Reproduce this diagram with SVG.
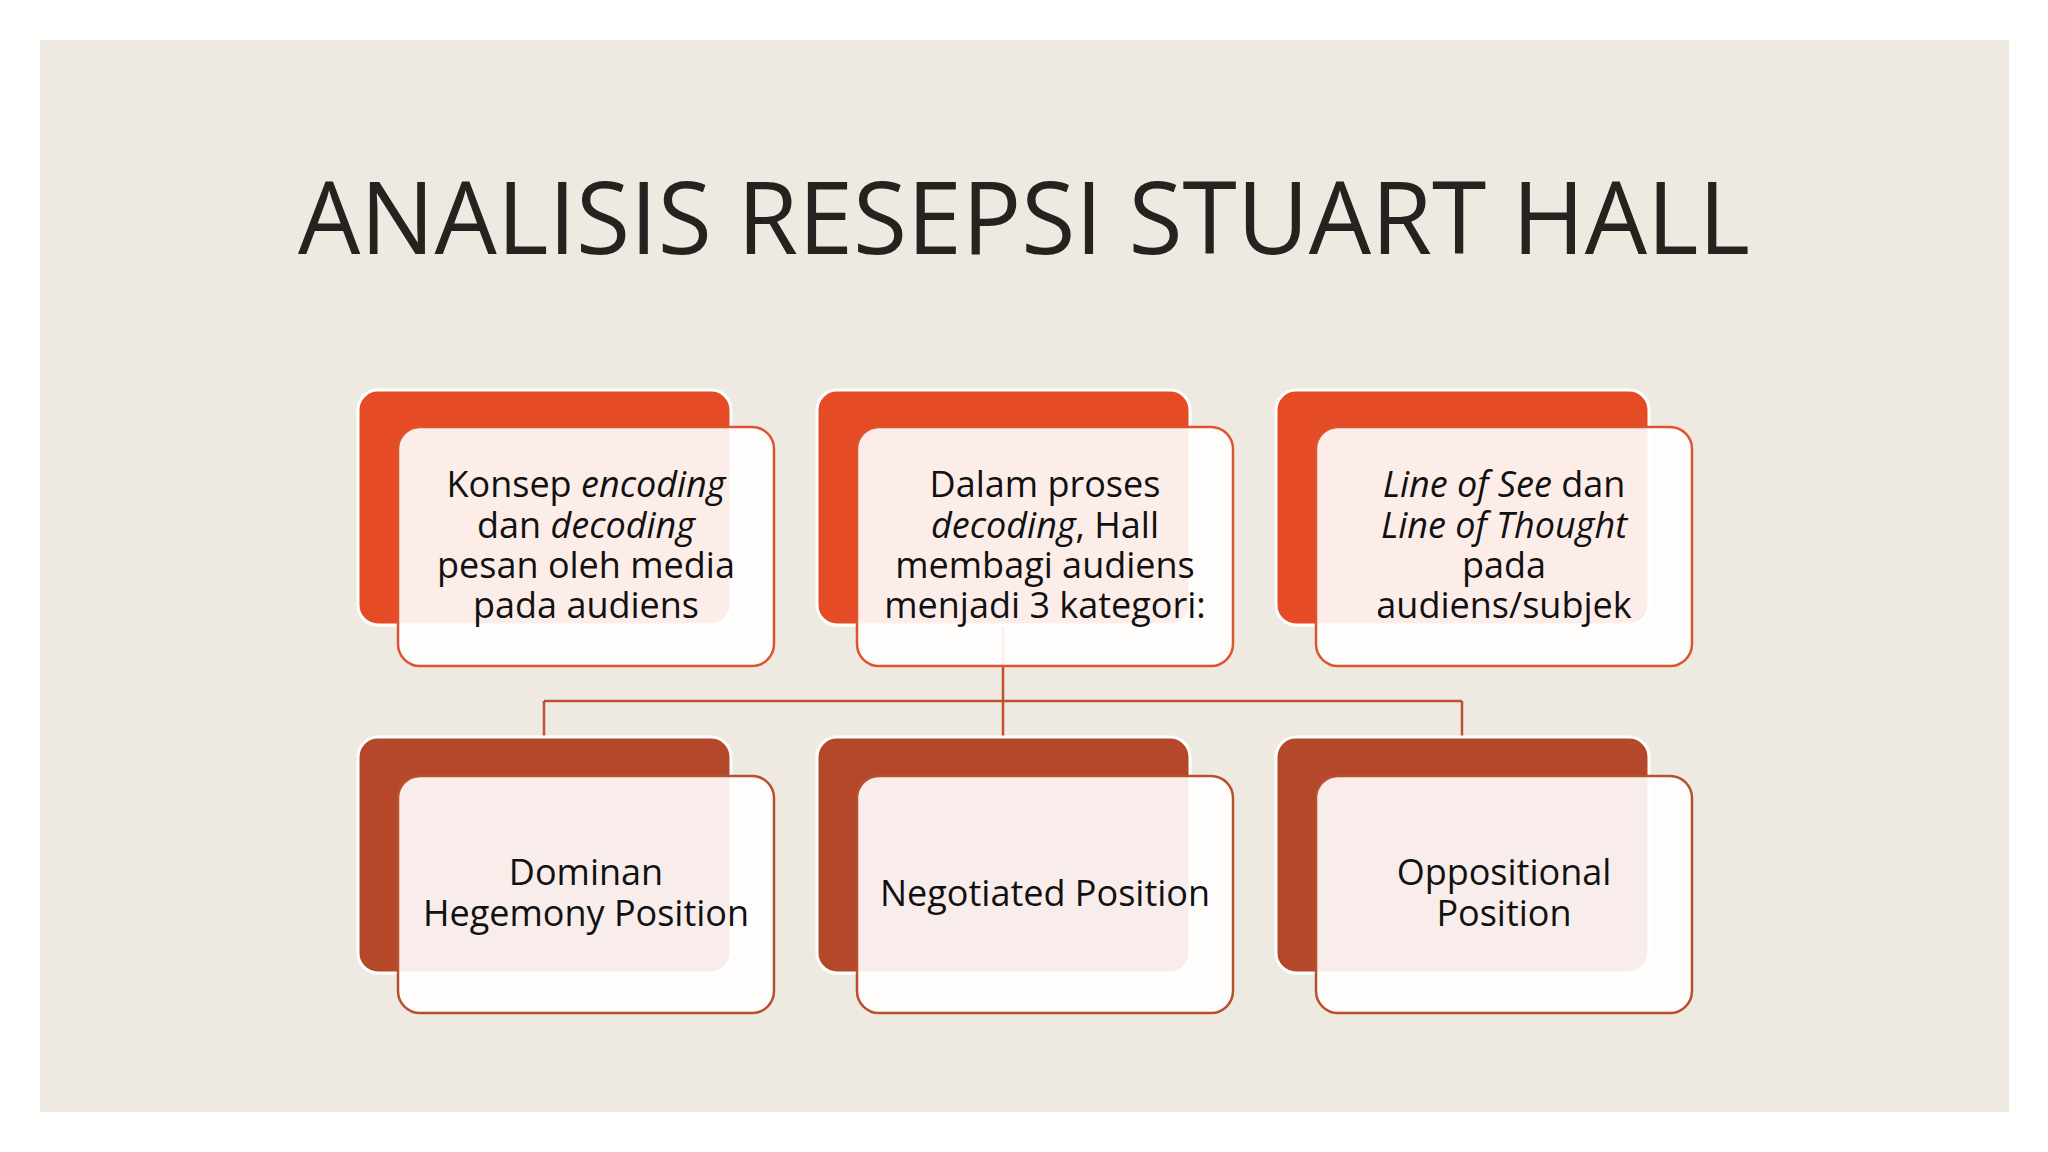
<svg xmlns="http://www.w3.org/2000/svg" width="2048" height="1152" viewBox="0 0 2048 1152">
<style>
.back-top{fill:#E54B24;stroke:#FFFFFF;stroke-width:3}
.back-bot{fill:#B5482A;stroke:#FFFFFF;stroke-width:3}
.front-top{fill:#FFFFFF;fill-opacity:0.9;stroke:#DC5530;stroke-width:2.5}
.front-bot{fill:#FFFFFF;fill-opacity:0.9;stroke:#B8502E;stroke-width:2.5}
.lbl{font-family:"Open Sans","Noto Sans","Liberation Sans",sans-serif;font-size:36px;fill:#111111;text-anchor:middle}
.it{font-style:italic}
.conn{fill:none;stroke:#C0502D;stroke-width:2.5}
</style>
<rect x="0" y="0" width="2048" height="1152" fill="#FFFFFF"/>
<rect x="40" y="40" width="1969" height="1072" fill="#EEEAE2"/>
<text x="1024" y="254" font-family="'Open Sans','Noto Sans','Liberation Sans',sans-serif" font-size="100" fill="#252320" text-anchor="middle" textLength="1452" lengthAdjust="spacingAndGlyphs">ANALISIS RESEPSI STUART HALL</text>
<g id="connectors">
<path class="conn" d="M1003 627 V701 M544 701 H1462 M544 701 V736 M1003 701 V736 M1462 701 V736"/>
</g>
<g id="node-konsep">
<rect class="back-top" x="358" y="390" width="373" height="235" rx="20"/>
<rect class="front-top" x="398" y="427" width="376" height="239" rx="22"/>
<text class="lbl"><tspan x="586" y="497">Konsep <tspan class="it">encoding</tspan></tspan><tspan x="586" y="538">dan <tspan class="it">decoding</tspan></tspan><tspan x="586" y="578">pesan oleh media</tspan><tspan x="586" y="618">pada audiens</tspan></text>
</g>
<g id="node-decoding">
<rect class="back-top" x="817" y="390" width="373" height="235" rx="20"/>
<rect class="front-top" x="857" y="427" width="376" height="239" rx="22"/>
<text class="lbl"><tspan x="1045" y="497">Dalam proses</tspan><tspan x="1045" y="538"><tspan class="it">decoding</tspan>, Hall</tspan><tspan x="1045" y="578">membagi audiens</tspan><tspan x="1045" y="618">menjadi 3 kategori:</tspan></text>
</g>
<g id="node-line">
<rect class="back-top" x="1276" y="390" width="373" height="235" rx="20"/>
<rect class="front-top" x="1316" y="427" width="376" height="239" rx="22"/>
<text class="lbl"><tspan x="1504" y="497"><tspan class="it">Line of See</tspan> dan</tspan><tspan x="1504" y="538" class="it">Line of Thought</tspan><tspan x="1504" y="578">pada</tspan><tspan x="1504" y="618">audiens/subjek</tspan></text>
</g>
<g id="node-dominan">
<rect class="back-bot" x="358" y="737" width="373" height="236" rx="20"/>
<rect class="front-bot" x="398" y="776" width="376" height="237" rx="22"/>
<text class="lbl"><tspan x="586" y="885">Dominan</tspan><tspan x="586" y="926">Hegemony Position</tspan></text>
</g>
<g id="node-negotiated">
<rect class="back-bot" x="817" y="737" width="373" height="236" rx="20"/>
<rect class="front-bot" x="857" y="776" width="376" height="237" rx="22"/>
<text class="lbl"><tspan x="1045" y="906">Negotiated Position</tspan></text>
</g>
<g id="node-oppositional">
<rect class="back-bot" x="1276" y="737" width="373" height="236" rx="20"/>
<rect class="front-bot" x="1316" y="776" width="376" height="237" rx="22"/>
<text class="lbl"><tspan x="1504" y="885">Oppositional</tspan><tspan x="1504" y="926">Position</tspan></text>
</g>
</svg>
